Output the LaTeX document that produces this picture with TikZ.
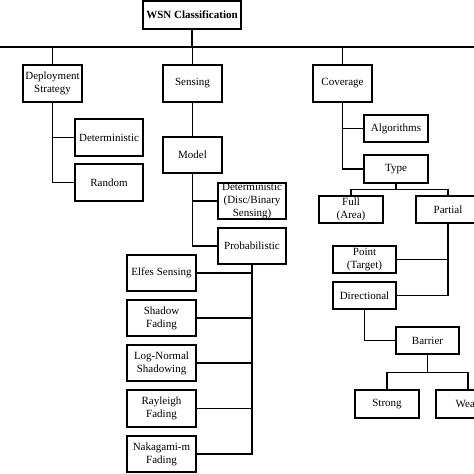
\documentclass[tikz,border=0pt]{standalone}
\usepackage{fontspec}
\setmainfont{Liberation Serif}
\begin{document}
\begin{tikzpicture}[x=1pt,y=-1pt,
  bx/.style={draw, line width=1.1pt, inner sep=0pt, align=center,
    font=\fontsize{11}{13}\selectfont, fill=white},
  ln/.style={line width=1.1pt}]
\useasboundingbox (0,0) rectangle (474,474);
\clip (0,0) rectangle (474,474);
\fill[white] (0,0) rectangle (474,474);
% nodes
\node[bx, minimum width=98pt, minimum height=28pt, font=\fontsize{11}{13}\selectfont\bfseries] (wsn) at (192,15) {WSN Classification};
\coordinate (bl) at (0,47);
\coordinate (br) at (474,47);
\node[bx, minimum width=59pt, minimum height=37pt] (dep) at (52.5,83.5) {Deployment\\Strategy};
\node[bx, minimum width=59pt, minimum height=37pt] (sens) at (192.5,83.5) {Sensing};
\node[bx, minimum width=59pt, minimum height=37pt] (cov) at (342.5,83.5) {Coverage};
\node[bx, minimum width=68pt, minimum height=37pt] (det) at (109,137.5) {Deterministic};
\node[bx, minimum width=68pt, minimum height=37pt] (rand) at (109,182.5) {Random};
\node[bx, minimum width=59pt, minimum height=36pt] (model) at (192.5,155) {Model};
\node[bx, minimum width=68pt, minimum height=36pt] (detd) at (252,201) {Deterministic\\(Disc/Binary\\Sensing)};
\node[bx, minimum width=68pt, minimum height=36pt] (prob) at (252,246) {Probabilistic};
\node[bx, minimum width=69pt, minimum height=36pt] (elfes) at (161.5,273) {Elfes Sensing};
\node[bx, minimum width=69pt, minimum height=36pt] (shadow) at (161.5,318) {Shadow\\Fading};
\node[bx, minimum width=69pt, minimum height=36pt] (logn) at (161.5,363) {Log-Normal\\Shadowing};
\node[bx, minimum width=69pt, minimum height=37pt] (rayl) at (161.5,408.5) {Rayleigh\\Fading};
\node[bx, minimum width=69pt, minimum height=36pt] (naka) at (161.5,454) {Nakagami-m\\Fading};
\node[bx, minimum width=64pt, minimum height=27pt] (alg) at (396,128.5) {Algorithms};
\node[bx, minimum width=64pt, minimum height=28pt] (type) at (396,169) {Type};
\node[bx, minimum width=64pt, minimum height=27pt] (full) at (351,209.5) {Full\\(Area)};
\node[bx, minimum width=64pt, minimum height=27pt] (partial) at (448,209.5) {Partial};
\node[bx, minimum width=63pt, minimum height=27pt] (point) at (364.5,259.5) {Point\\(Target)};
\node[bx, minimum width=63pt, minimum height=27pt] (dir) at (364.5,295.5) {Directional};
\node[bx, minimum width=63pt, minimum height=27pt] (barrier) at (427.5,340.5) {Barrier};
\node[bx, minimum width=64pt, minimum height=28pt] (strong) at (387,404) {Strong};
\node[bx, minimum width=64pt, minimum height=28pt] (weak) at (468,404) {Weak};
% connectors
\begin{scope}[on background layer/.style={}]
\draw[ln] (bl) -- (br);
\draw[ln] (wsn.south) -- (wsn.south |- bl);
\draw[ln] (dep.north) -- (dep.north |- bl);
\draw[ln] (sens.north) -- (sens.north |- bl);
\draw[ln] (cov.north) -- (cov.north |- bl);
\draw[ln] (dep.south) |- (rand.west);
\draw[ln] (det.west) -- (det.west -| dep.south);
\draw[ln] (sens.south) -- (model.north);
\draw[ln] (model.south) |- (prob.west);
\draw[ln] (detd.west) -- (detd.west -| model.south);
\draw[ln] (prob.south) |- (naka.east);
\draw[ln] (elfes.east) -- (elfes.east -| prob.south);
\draw[ln] (shadow.east) -- (shadow.east -| prob.south);
\draw[ln] (logn.east) -- (logn.east -| prob.south);
\draw[ln] (rayl.east) -- (rayl.east -| prob.south);
\draw[ln] (cov.south) |- (type.west);
\draw[ln] (alg.west) -- (alg.west -| cov.south);
\draw[ln] (type.south) -- ++(0,6) -| (full.north);
\draw[ln] (type.south) -- ++(0,6) -| (partial.north);
\draw[ln] (partial.south) |- (dir.east);
\draw[ln] (point.east) -- (point.east -| partial.south);
\draw[ln] (dir.south) |- (barrier.west);
\draw[ln] (barrier.south) -- ++(0,18) -| (strong.north);
\draw[ln] (barrier.south) -- ++(0,18) -| (weak.north);
\end{scope}
\end{tikzpicture}
\end{document}
